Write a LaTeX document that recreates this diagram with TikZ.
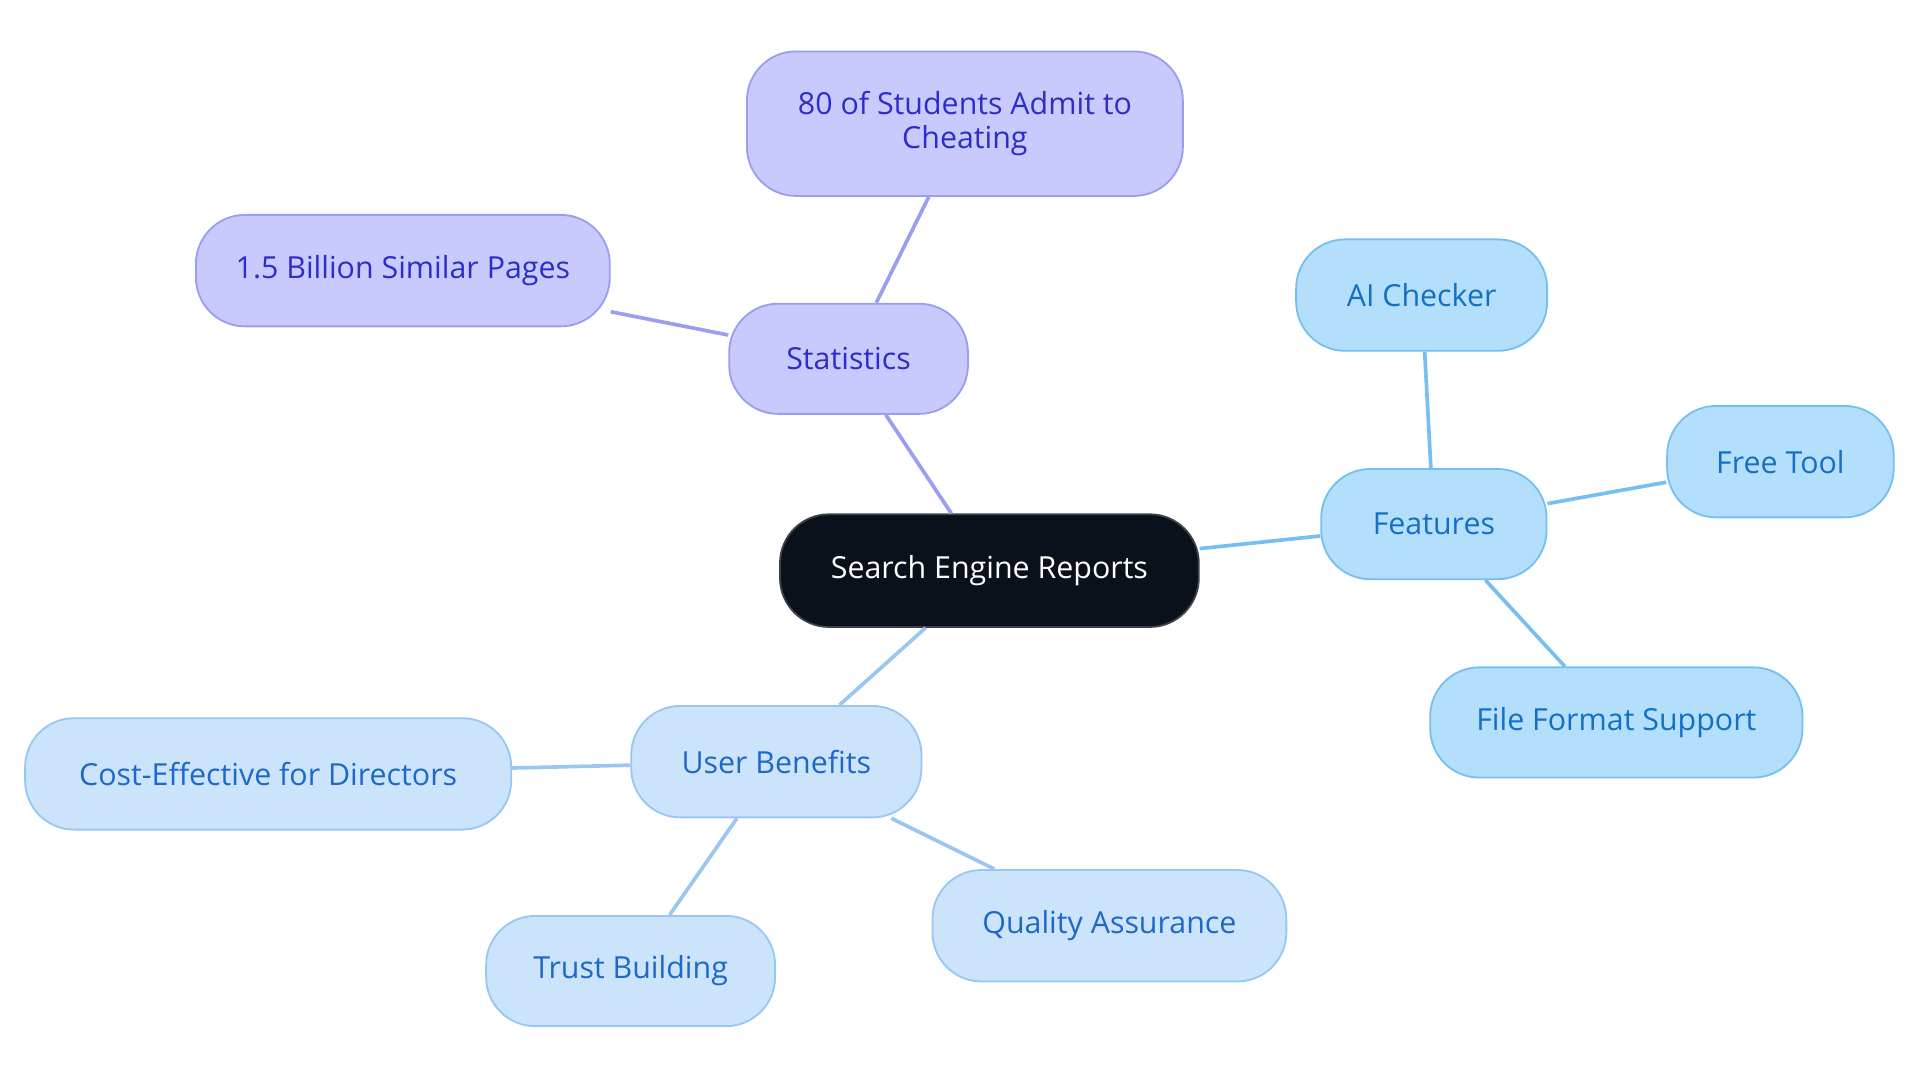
\documentclass[tikz,border=0pt]{standalone}
\usepackage{fontspec}
\setmainfont{Open Sans}
\definecolor{rootfill}{HTML}{0B111B}
\definecolor{statfill}{HTML}{C8CAFD}
\definecolor{statline}{HTML}{9B9EF0}
\definecolor{stattext}{HTML}{2E2EC6}
\definecolor{featfill}{HTML}{B3DFFC}
\definecolor{featline}{HTML}{76C0F0}
\definecolor{feattext}{HTML}{1370C2}
\definecolor{userfill}{HTML}{CCE4FB}
\definecolor{userline}{HTML}{9AC6F2}
\definecolor{usertext}{HTML}{1E68C8}
\tikzset{
  pill/.style={rounded corners=20pt, line width=0.75pt, align=center, inner sep=0pt, font=\fontsize{12.4}{13.6}\selectfont},
  rootpill/.style={pill, draw=rootfill!80!white, fill=rootfill, text=white},
  statpill/.style={pill, draw=statline, fill=statfill, text=stattext},
  featpill/.style={pill, draw=featline, fill=featfill, text=feattext},
  userpill/.style={pill, draw=userline, fill=userfill, text=usertext},
  statlink/.style={draw=statline, line width=1.5pt},
  featlink/.style={draw=featline, line width=1.5pt},
  userlink/.style={draw=userline, line width=1.5pt}
}
\begin{document}
\begin{tikzpicture}[x=0.5pt,y=0.5pt,yscale=-1]
\path[use as bounding box] (0,0) rectangle (1568,884.5);

%Root
\node[rootpill, minimum width=171pt, minimum height=46pt] (root) at (808,466) {Search Engine Reports};

%Statistics branch
\node[statpill, minimum width=97.5pt, minimum height=45pt] (stats) at (693,293) {Statistics};
\node[statpill, minimum width=178pt, minimum height=59pt] (cheat) at (788,101) {80 of Students Admit to\\Cheating};
\node[statpill, minimum width=169pt, minimum height=45.5pt] (pages) at (329,221) {1.5 Billion Similar Pages};

%Features branch
\node[featpill, minimum width=92pt, minimum height=45pt] (feat) at (1171,428) {Features};
\node[featpill, minimum width=102.5pt, minimum height=45.5pt] (aicheck) at (1161,241) {AI Checker};
\node[featpill, minimum width=92.5pt, minimum height=45.5pt] (free) at (1454,377) {Free Tool};
\node[featpill, minimum width=152pt, minimum height=45pt] (format) at (1320,590) {File Format Support};

%User Benefits branch
\node[userpill, minimum width=118.5pt, minimum height=45.5pt] (user) at (634,622) {User Benefits};
\node[userpill, minimum width=198.5pt, minimum height=45.5pt] (cost) at (219,632) {Cost-Effective for Directors};
\node[userpill, minimum width=118pt, minimum height=45pt] (trust) at (515,793) {Trust Building};
\node[userpill, minimum width=144.5pt, minimum height=45.5pt] (quality) at (906,756) {Quality Assurance};

%Links
\draw[statlink] (root) -- (stats);
\draw[statlink] (stats) -- (cheat);
\draw[statlink] (stats) -- (pages);
\draw[featlink] (root) -- (feat);
\draw[featlink] (feat) -- (aicheck);
\draw[featlink] (feat) -- (free);
\draw[featlink] (feat) -- (format);
\draw[userlink] (root) -- (user);
\draw[userlink] (user) -- (cost);
\draw[userlink] (user) -- (trust);
\draw[userlink] (user) -- (quality);

\end{tikzpicture}
\end{document}
